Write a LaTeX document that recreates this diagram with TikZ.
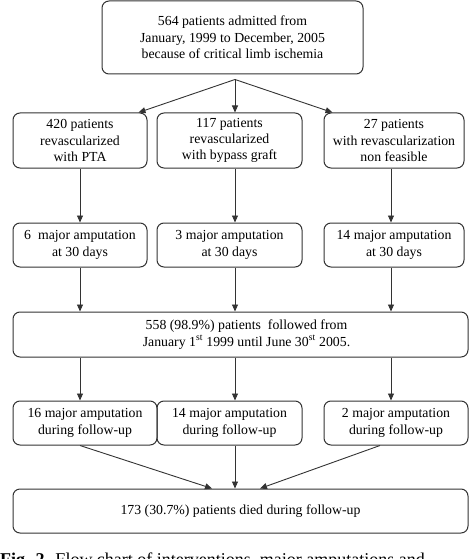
\documentclass[tikz,border=0pt]{standalone}
\usepackage{fontspec}
\setmainfont{Liberation Serif}
\usetikzlibrary{arrows.meta,calc}
\begin{document}
\begin{tikzpicture}[x=1pt,y=-1pt,
 box/.style={draw=black!80, line width=1pt, rounded corners=7pt, align=center, inner sep=0pt, font=\fontsize{13.8}{16.3}\selectfont},
 arr/.style={draw=black!80, line width=0.9pt, -{Triangle[length=7pt,width=6pt]}}]
\useasboundingbox (0,0) rectangle (474,559);
\clip (0,0) rectangle (474,559);
\node[box, minimum width=261pt, minimum height=73pt] (top) at (232.5,37.5) {564 patients admitted from\\January, 1999 to December, 2005\\because of critical limb ischemia};
\node[box, minimum width=134pt, minimum height=55pt] (r2L) at (80,140.5) {420 patients\\revascularized\\with PTA};
\node[box, minimum width=145pt, minimum height=55pt] (r2M) at (229.5,140.5) {117 patients\\revascularized\\with bypass graft};
\node[box, minimum width=140pt, minimum height=55pt] (r2R) at (394,140.5) {27 patients\\with revascularization\\non feasible};
\node[box, minimum width=134pt, minimum height=44pt] (r3L) at (80,245) {6\ \ major amputation\\at 30 days};
\node[box, minimum width=145pt, minimum height=44pt] (r3M) at (229.5,245) {3 major amputation\\at 30 days};
\node[box, minimum width=140pt, minimum height=44pt] (r3R) at (394,245) {14 major amputation\\at 30 days};
\node[box, minimum width=455pt, minimum height=45pt] (big) at (240.5,334.5) {\hspace*{12pt}558 (98.9\%) patients\ \ followed from\\\hspace*{12pt}January 1\textsuperscript{st} 1999 until June 30\textsuperscript{st} 2005.};
\node[box, minimum width=144pt, minimum height=44pt] (r4L) at (85,423) {16 major amputation\\during follow-up};
\node[box, minimum width=145pt, minimum height=44pt] (r4M) at (229.5,423) {14 major amputation\\during follow-up};
\node[box, minimum width=144pt, minimum height=44pt] (r4R) at (396,423) {2 major amputation\\during follow-up};
\node[box, minimum width=455pt, minimum height=44pt] (bot) at (240.5,511) {173 (30.7\%) patients died during follow-up};
\node[anchor=base west, inner sep=0pt, font=\fontsize{18}{20}\selectfont] (cap) at (0,565.5) {\textbf{Fig. 2}\hspace{0.6em}Flow chart of interventions, major amputations and};
\coordinate (split) at ($(top.south)+(2.5,5)$);
\coordinate (c1) at (80,0);
\coordinate (c2) at (235,0);
\coordinate (c3) at (391,0);
\draw[arr] (split) -- ($(r2L.north east)+(-9,0)$);
\draw[arr] (split) -- (split |- r2M.north);
\draw[arr] (split) -- ($(r2R.north west)+(9,0)$);
\draw[arr] (r2L.south -| c1) -- (r3L.north -| c1);
\draw[arr] (r2M.south -| c2) -- (r3M.north -| c2);
\draw[arr] (r2R.south -| c3) -- (r3R.north -| c3);
\draw[arr] (r3L.south -| c1) -- (big.north -| c1);
\draw[arr] (r3M.south -| c2) -- (big.north -| c2);
\draw[arr] (r3R.south -| c3) -- (big.north -| c3);
\draw[arr] (big.south -| c1) -- (r4L.north -| c1);
\draw[arr] (big.south -| c2) -- (r4M.north -| c2);
\draw[arr] (big.south -| c3) -- (r4R.north -| c3);
\draw[arr] (r4L.south -| c1) -- ($(bot.north)+(-28.5,0)$);
\draw[arr] (r4M.south -| c2) -- (bot.north -| c2);
\draw[arr] ($(r4R.south)+(-16,0)$) -- ($(bot.north)+(19.5,0)$);
\end{tikzpicture}
\end{document}
